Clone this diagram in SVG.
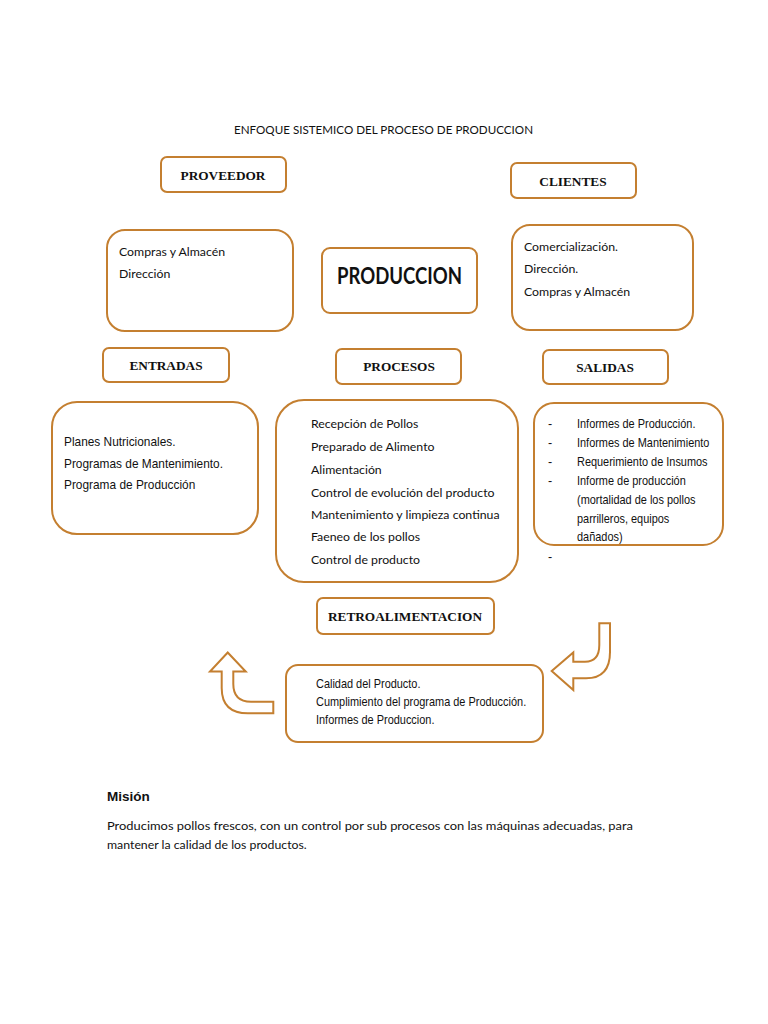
<svg xmlns="http://www.w3.org/2000/svg" width="768" height="1024" viewBox="0 0 768 1024">
<style>
.box{fill:#fff;stroke:#C47F30;stroke-width:2}
.lbl{font-family:"Liberation Serif",serif;font-weight:bold;font-size:13.3px;fill:#111;text-anchor:middle}
.cal{font-family:Lato,"Open Sans",sans-serif;font-size:12.3px;fill:#111}
.ari{font-family:"Liberation Sans",Arial,sans-serif;font-size:12.5px;fill:#111}
.arrow{fill:#fff;stroke:#C47F30;stroke-width:2;stroke-linejoin:miter}
</style>
<rect width="768" height="1024" fill="#fff"/>
<text x="234" y="134" class="cal" font-size="12" textLength="299" lengthAdjust="spacingAndGlyphs">ENFOQUE SISTEMICO DEL PROCESO DE PRODUCCION</text>

<g id="proveedor"><rect class="box" x="161" y="157" width="125" height="35" rx="6"/><text class="lbl" x="223" y="180">PROVEEDOR</text></g>
<g id="proveedor-detalle"><rect class="box" x="107" y="230" width="186" height="101" rx="18"/>
<text class="cal" x="119" y="256">Compras y Almacén</text><text class="cal" x="119" y="278">Dirección</text></g>
<g id="produccion"><rect class="box" x="322" y="248" width="155" height="65" rx="8"/><text x="337" y="284" textLength="125" lengthAdjust="spacingAndGlyphs" font-family="Lato,'Open Sans',sans-serif" font-weight="bold" font-size="23" fill="#111">PRODUCCION</text></g>
<g id="clientes"><rect class="box" x="511" y="163" width="125" height="35" rx="6"/><text class="lbl" x="573" y="186">CLIENTES</text></g>
<g id="clientes-detalle"><rect class="box" x="512" y="225" width="181" height="105" rx="18"/>
<text class="cal" x="524" y="251">Comercialización.</text><text class="cal" x="524" y="273">Dirección.</text><text class="cal" x="524" y="296">Compras y Almacén</text></g>

<g id="entradas"><rect class="box" x="103" y="348" width="126" height="34" rx="6"/><text class="lbl" x="166" y="370">ENTRADAS</text></g>
<g id="procesos"><rect class="box" x="336" y="349" width="125" height="35" rx="6"/><text class="lbl" x="399" y="371">PROCESOS</text></g>
<g id="salidas"><rect class="box" x="543" y="350" width="125" height="34" rx="6"/><text class="lbl" x="605" y="372">SALIDAS</text></g>

<g id="entradas-detalle"><rect class="box" x="52" y="402" width="206" height="132" rx="25"/>
<g class="ari" font-size="13.5" transform="translate(64,0) scale(0.95,1) translate(-64,0)">
<text x="64" y="446">Planes Nutricionales.</text>
<text x="64" y="468">Programas de Mantenimiento.</text>
<text x="64" y="489">Programa de Producción</text></g></g>

<g id="procesos-detalle"><rect class="box" x="276" y="400" width="242" height="182" rx="28"/>
<text class="cal" x="311" y="428">Recepción de Pollos</text>
<text class="cal" x="311" y="451">Preparado de Alimento</text>
<text class="cal" x="311" y="474">Alimentación</text>
<text class="cal" x="311" y="497">Control de evolución del producto</text>
<text class="cal" x="311" y="519">Mantenimiento y limpieza continua</text>
<text class="cal" x="311" y="541">Faeneo de los pollos</text>
<text class="cal" x="311" y="564">Control de producto</text></g>

<g id="salidas-detalle"><rect class="box" x="534" y="403" width="189" height="142" rx="20"/>
<g class="ari" font-size="11.5">
<text x="548" y="428">-</text>
<text x="548" y="447">-</text>
<text x="548" y="466">-</text>
<text x="548" y="485">-</text>
<text x="548" y="561">-</text>
</g>
<g class="ari" font-size="11.5" transform="translate(577,0) scale(0.875,1) translate(-577,0)">
<text x="577" y="428">Informes de Producción.</text>
<text x="577" y="447">Informes de Mantenimiento</text>
<text x="577" y="466">Requerimiento de Insumos</text>
<text x="577" y="485">Informe de producción</text>
<text x="577" y="504">(mortalidad de los pollos</text>
<text x="577" y="523">parrilleros, equipos</text>
<text x="577" y="541">dañados)</text>
</g></g>

<g id="retroalimentacion"><rect class="box" x="317" y="598" width="177" height="36" rx="6"/><text class="lbl" x="405" y="621">RETROALIMENTACION</text></g>
<g id="retro-detalle"><rect class="box" x="286" y="665" width="257" height="77" rx="12"/>
<g class="ari" font-size="11.5" transform="translate(316,0) scale(0.875,1) translate(-316,0)">
<text x="316" y="688">Calidad del Producto.</text>
<text x="316" y="706">Cumplimiento  del programa de Producción.</text>
<text x="316" y="724">Informes de Produccion.</text>
</g></g>

<g id="connectors">
<path class="arrow" d="M227.7,652.5 L245.7,671.5 L233.3,671.5 L233.3,684 Q233.3,701.7 251,701.7 L273.3,701.7 L273.3,713.3 L248,713.3 Q221.7,713.3 221.7,688 L221.7,671.5 L210,671.5 Z"/>
<path class="arrow" d="M551.7,671 L573.3,652.5 L573.3,661.7 L585,661.7 Q599.3,661.7 599.3,645 L599.3,623.3 L610,623.3 L610,652 Q610,678.3 586,678.3 L573.3,678.3 L573.3,690 Z"/>
</g>

<g id="mision">
<text x="107" y="801" font-family="'Liberation Sans',Arial,sans-serif" font-weight="bold" font-size="13.5" fill="#111">Misión</text>
<text class="cal" x="107" y="830" font-size="13.5" textLength="526" lengthAdjust="spacingAndGlyphs">Producimos pollos frescos, con un control por sub procesos con las máquinas adecuadas, para</text>
<text class="cal" x="107" y="849" font-size="13.5">mantener la calidad de los productos.</text>
</g>
</svg>
